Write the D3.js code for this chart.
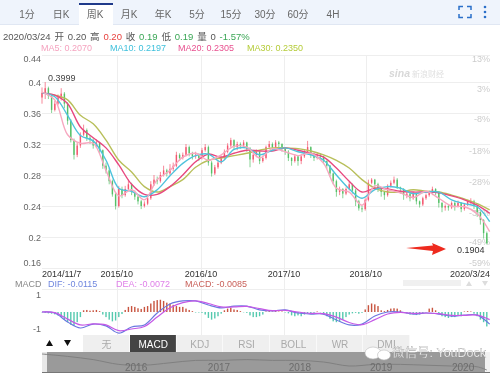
<!DOCTYPE html>
<html>
<head>
<meta charset="utf-8">
<script src="https://cdn.jsdelivr.net/npm/d3@7"></script>
<style>
html, body { margin: 0; padding: 0; background: #fff; }
svg { display: block; filter: blur(0.4px); font-family: "Liberation Sans", "Noto Sans CJK SC", sans-serif; }
</style>
</head>
<body>
<div id="chart"></div>
<script>
const tabs = ["1分", "日K", "周K", "月K", "年K", "5分", "15分", "30分", "60分", "4H"];
const indicatorTabs = ["无", "MACD", "KDJ", "RSI", "BOLL", "WR", "DMI"];

const priceTicks = [0.44, 0.4, 0.36, 0.32, 0.28, 0.24, 0.2, 0.16];
const pctTicks = ["13%", "3%", "-8%", "-18%", "-28%", "-38%", "-49%", "-59%"];
const dateTicks = ["2014/11/7", "2015/10", "2016/10", "2017/10", "2018/10", "2020/3/24"];
const dateTickBars = [0, 23.4, 49.7, 75.6, 101.2, 139.5];
const navYears = ["2016", "2017", "2018", "2019", "2020"];
const navYearBars = [29.4, 55.3, 80.6, 106, 131.6];

const opens = [.380,.386,.392,.382,.364,.372,.380,.385,.372,.350,.325,.306,.318,.332,.338,.328,.325,.318,.322,.312,.292,.286,.272,.255,.240,.262,.254,.262,.268,.258,.252,.246,.240,.243,.250,.268,.274,.272,.280,.286,.282,.288,.292,.306,.302,.306,.316,.308,.304,.306,.302,.312,.316,.296,.282,.290,.296,.302,.310,.318,.325,.316,.320,.318,.322,.314,.300,.306,.310,.298,.302,.316,.320,.316,.322,.320,.314,.310,.302,.298,.304,.298,.304,.310,.316,.306,.302,.306,.304,.298,.292,.282,.272,.258,.262,.256,.262,.268,.260,.246,.237,.236,.248,.270,.274,.268,.262,.258,.254,.266,.270,.274,.264,.262,.254,.256,.250,.256,.246,.242,.250,.254,.258,.262,.258,.244,.238,.240,.238,.244,.240,.244,.236,.242,.246,.246,.240,.232,.222,.205];
const closes = [.386,.392,.382,.364,.372,.380,.385,.372,.350,.325,.306,.318,.332,.338,.328,.325,.318,.322,.312,.292,.286,.272,.255,.240,.262,.254,.262,.268,.258,.252,.246,.240,.243,.250,.268,.274,.272,.280,.286,.282,.288,.292,.306,.302,.306,.316,.308,.304,.306,.302,.312,.316,.296,.282,.290,.296,.302,.310,.318,.325,.316,.320,.318,.322,.314,.300,.306,.310,.298,.302,.316,.320,.316,.322,.320,.314,.310,.302,.298,.304,.298,.304,.310,.316,.306,.302,.306,.304,.298,.292,.282,.272,.258,.262,.256,.262,.268,.260,.246,.237,.236,.248,.270,.274,.268,.262,.258,.254,.266,.270,.274,.264,.262,.254,.256,.250,.256,.246,.242,.250,.254,.258,.262,.258,.244,.238,.240,.238,.244,.240,.244,.236,.242,.246,.246,.240,.232,.222,.205,.192];
const highs = [.393,.3999,.394,.384,.376,.384,.392,.387,.374,.352,.327,.322,.335,.345,.340,.331,.327,.326,.323,.313,.296,.289,.274,.257,.266,.265,.266,.274,.270,.260,.254,.248,.246,.254,.272,.280,.278,.284,.292,.288,.294,.296,.310,.308,.309,.320,.318,.310,.310,.308,.315,.320,.318,.298,.293,.299,.305,.313,.321,.328,.326,.323,.322,.325,.323,.316,.308,.313,.311,.305,.318,.324,.322,.325,.324,.321,.315,.312,.303,.307,.305,.307,.313,.324,.317,.308,.309,.308,.305,.299,.293,.283,.274,.265,.263,.264,.271,.269,.262,.248,.240,.250,.274,.276,.275,.270,.264,.259,.268,.273,.278,.276,.265,.263,.258,.257,.258,.257,.247,.252,.256,.260,.265,.263,.259,.245,.242,.242,.246,.246,.247,.245,.244,.248,.250,.248,.241,.233,.223,.207];
const lows = [.372,.378,.378,.360,.362,.370,.376,.366,.345,.322,.300,.303,.315,.330,.324,.320,.314,.315,.308,.288,.282,.268,.252,.2355,.238,.250,.252,.260,.254,.248,.242,.236,.238,.241,.248,.266,.268,.270,.278,.278,.280,.285,.290,.298,.300,.304,.304,.300,.301,.298,.300,.310,.292,.278,.280,.288,.294,.300,.308,.316,.312,.312,.314,.316,.310,.290,.296,.303,.294,.296,.300,.314,.312,.314,.316,.310,.306,.298,.292,.296,.292,.294,.302,.308,.302,.298,.300,.300,.294,.288,.278,.268,.252,.254,.250,.254,.260,.256,.240,.234,.232,.234,.246,.268,.262,.258,.252,.248,.252,.264,.268,.262,.256,.248,.250,.246,.248,.242,.238,.240,.248,.252,.254,.254,.238,.232,.234,.234,.236,.234,.238,.232,.234,.240,.242,.236,.226,.216,.198,.1904];

const maBars = [0,4,8,12,16,20,24,28,32,36,40,44,48,52,56,60,64,68,72,76,80,84,88,92,96,100,104,108,112,116,120,124,128,132,136,139.9];
const ma5 = [.387,.377,.332,.321,.321,.286,.253,.261,.248,.274,.286,.303,.308,.299,.306,.317,.316,.302,.314,.310,.305,.308,.295,.263,.258,.241,.266,.261,.257,.251,.259,.250,.240,.239,.230,.207];
const ma10 = [.386,.381,.357,.331,.324,.299,.263,.259,.252,.261,.279,.295,.305,.307,.297,.313,.315,.306,.312,.315,.310,.306,.299,.280,.262,.250,.261,.265,.263,.256,.258,.258,.248,.243,.239,.2197];
const ma20 = [.386,.383,.372,.342,.328,.315,.293,.268,.255,.255,.265,.280,.297,.307,.303,.308,.312,.311,.311,.315,.312,.308,.303,.289,.272,.258,.263,.262,.259,.258,.258,.257,.253,.248,.241,.2305];
const ma30 = [.386,.383,.377,.357,.346,.325,.299,.284,.265,.258,.265,.274,.290,.299,.302,.305,.308,.312,.315,.315,.314,.311,.306,.299,.289,.274,.263,.258,.258,.261,.259,.258,.254,.249,.243,.2350];

const dif = [0,-.06,-.59,-.94,-.71,-.82,-1.24,-.88,-.76,-.06,.47,.65,.65,.41,.24,.35,.35,.12,.06,.12,-.06,-.12,-.12,-.47,-.76,-.71,-.24,0,0,-.12,-.06,-.12,-.24,-.18,-.18,-.71];
const dea = [0,-.04,-.42,-.76,-.7,-.76,-1.1,-1,-.85,-.3,.25,.55,.65,.5,.3,.3,.33,.2,.08,.1,0,-.08,-.1,-.3,-.62,-.75,-.45,-.12,-.02,-.08,-.06,-.1,-.2,-.2,-.18,-.45];
const hist = [-.02,-.05,-.08,-.1,-.14,-.2,-.3,-.45,-.6,-.75,-.8,-.6,-.3,.1,.12,.08,.1,.12,.05,-.15,-.3,-.45,-.55,-.5,-.3,-.12,.12,.3,.35,.3,.22,.18,.3,.35,.5,.65,.7,.72,.65,.55,.5,.42,.35,.3,.3,.2,.12,.05,-.03,-.03,-.05,-.15,-.35,-.45,-.38,-.25,-.1,.1,.2,.25,.15,.12,.05,-.02,-.05,-.2,-.3,-.3,-.25,-.15,.03,.05,.03,.05,.03,.03,-.03,-.08,-.2,-.25,-.2,-.25,-.15,-.08,-.08,-.05,.03,-.02,-.15,-.25,-.4,-.55,-.6,-.55,-.45,-.3,-.15,-.08,-.05,-.1,-.05,.15,.4,.5,.45,.35,.1,.05,.12,.2,.22,.2,.1,-.03,-.08,-.15,-.12,-.18,-.15,-.08,-.02,.2,.25,.1,-.1,-.25,-.3,-.35,-.3,-.3,-.2,-.25,.03,.05,.03,-.1,-.25,-.45,-.6,-.85];

const navBars = [0,8,16,24,32,40,48,56,64,72,80,88,96,104,112,120,128,136,139];
const navValues = [.39,.36,.32,.26,.25,.28,.31,.31,.32,.31,.31,.29,.24,.26,.26,.25,.24,.23,.19];

const W = 500, H = 375;
const svg = d3.select("#chart").append("svg").attr("width", W).attr("height", H);

// shared scales, bar number to pixel
const x = d3.scaleLinear().domain([0, 140]).range([42, 490]);
const y = d3.scaleLinear().domain([0.16, 0.2]).range([268, 237]);
const yMacd = d3.scaleLinear().domain([-1, 1]).range([329, 295]);

const upColor = "#f4566f", downColor = "#55c067";

// tab bar
svg.append("rect").attr("width", W).attr("height", 25).attr("fill", "#eff4fc");
svg.append("line").attr("x1", 0).attr("x2", W).attr("y1", 24.5).attr("y2", 24.5).attr("stroke", "#e0e7f3");
svg.append("rect").attr("x", 79).attr("y", 3).attr("width", 34).attr("height", 22).attr("fill", "#fff");
svg.append("rect").attr("x", 79).attr("y", 3).attr("width", 34).attr("height", 2).attr("fill", "#1f3a8a");
const tabX = [27, 61, 95, 129, 163, 197, 231, 265, 298, 333];
svg.selectAll(".tab").data(tabs).join("text")
    .attr("x", (d, i) => tabX[i]).attr("y", 18)
    .attr("text-anchor", "middle").attr("font-size", 10).attr("fill", "#666")
    .text(d => d);

// fullscreen icon and menu dots
svg.append("path")
    .attr("d", "M459 10V6.5H463M467 6.5H471V10M471 14V17.5H467M463 17.5H459V14")
    .attr("fill", "none").attr("stroke", "#2a6fc9").attr("stroke-width", 1.5);
[7, 12, 17].forEach(cy => svg.append("circle").attr("cx", 485).attr("cy", cy).attr("r", 1.3).attr("fill", "#2a6fc9"));

// quote row
const quote = svg.append("text").attr("x", 3).attr("y", 39.5).attr("font-size", 9.5)
    .attr("word-spacing", 1.2).attr("fill", "#555");
[["2020/03/24 开 ", "#555"], ["0.20 ", "#555"], ["高 ", "#555"], ["0.20 ", "#e8413e"], ["收 ", "#555"], ["0.19 ", "#3aa655"],
 ["低 ", "#555"], ["0.19 ", "#3aa655"], ["量 ", "#555"], ["0 ", "#555"], ["-1.57%", "#3aa655"]].forEach(p => {
    quote.append("tspan").attr("fill", p[1]).text(p[0]);
});
const maLabels = ["MA5: 0.2070", "MA10: 0.2197", "MA20: 0.2305", "MA30: 0.2350"];
const maLabelX = [41, 110, 178, 247];
const maColors = ["#f5a3bf", "#3fc0dc", "#e8508f", "#b5cc3a"];
svg.selectAll(".malabel").data(maLabels).join("text")
    .attr("x", (d, i) => maLabelX[i]).attr("y", 50.5).attr("font-size", 9)
    .attr("fill", (d, i) => maColors[i]).text(d => d);

// grid
const gridColor = "#eeeeee";
const gridY = [55, ...priceTicks.slice(1).map(y)];
svg.selectAll(".gy").data(gridY).join("line")
    .attr("x1", 42).attr("x2", 490).attr("y1", d => d + 0.5).attr("y2", d => d + 0.5).attr("stroke", gridColor);
const gridBars = dateTickBars.slice(1, 5);
svg.selectAll(".gx").data(gridBars).join("line")
    .attr("x1", d => Math.round(x(d)) + 0.5).attr("x2", d => Math.round(x(d)) + 0.5)
    .attr("y1", 55).attr("y2", 335).attr("stroke", gridColor);

// sina watermark
svg.append("text").attr("x", 389).attr("y", 77).attr("font-size", 10.5).attr("font-style", "italic")
    .attr("font-weight", "bold").attr("fill", "#d8d8d8").text("sina");
svg.append("text").attr("x", 412).attr("y", 77).attr("font-size", 8).attr("fill", "#e0e0e0").text("新浪财经");

// price labels
const leftLabelY = [59, 83, 114, 145, 176, 207, 238, 263];
svg.selectAll(".pl").data(priceTicks).join("text")
    .attr("x", 41).attr("y", (d, i) => leftLabelY[i] + 3).attr("text-anchor", "end")
    .attr("font-size", 9).attr("fill", "#666").text(d => d);
const rightLabelY = [59, 89, 119, 151, 182, 213, 242, 263];
svg.selectAll(".pr").data(pctTicks).join("text")
    .attr("x", 490).attr("y", (d, i) => rightLabelY[i] + 3).attr("text-anchor", "end")
    .attr("font-size", 9).attr("fill", "#cccccc").text(d => d);

// candles
const candles = d3.range(closes.length);
svg.selectAll(".wick").data(candles).join("line")
    .attr("x1", i => x(i)).attr("x2", i => x(i))
    .attr("y1", i => y(highs[i])).attr("y2", i => y(lows[i]))
    .attr("stroke", i => closes[i] >= opens[i] ? upColor : downColor).attr("stroke-width", 0.7);
svg.selectAll(".body").data(candles).join("rect")
    .attr("x", i => x(i) - 0.7).attr("width", 1.4)
    .attr("y", i => y(Math.max(opens[i], closes[i])))
    .attr("height", i => Math.max(1, Math.abs(y(opens[i]) - y(closes[i]))))
    .attr("fill", i => closes[i] >= opens[i] ? upColor : downColor);

// moving averages
const maLine = d3.line().x((d, i) => x(maBars[i])).y(d => y(d)).curve(d3.curveCatmullRom);
[ma30, ma20, ma10, ma5].forEach((s, k) => {
    svg.append("path").attr("d", maLine(s)).attr("fill", "none")
        .attr("stroke", ["#b8bf5a", "#e8487f", "#4ec3dc", "#f7a8c0"][k]).attr("stroke-width", 1.4);
});

// max/min callouts
svg.append("text").attr("x", 48).attr("y", 81).attr("font-size", 9).attr("fill", "#444").text("0.3999");
svg.append("text").attr("x", 457).attr("y", 253).attr("font-size", 9).attr("fill", "#333").text("0.1904");
svg.append("path").attr("d", "M406 248L433 245.5L432 243L446 249L432 255L433 251Z").attr("fill", "#ee2a1e");

// date labels
const anchors = ["start", "middle", "middle", "middle", "middle", "end"];
svg.selectAll(".dl").data(dateTicks).join("text")
    .attr("x", (d, i) => i === 0 ? 42 : i === 5 ? 490 : x(dateTickBars[i]))
    .attr("y", 277).attr("text-anchor", (d, i) => anchors[i])
    .attr("font-size", 9).attr("fill", "#333").text(d => d);

// macd legend
const macdLabels = ["MACD", "DIF: -0.0115", "DEA: -0.0072", "MACD: -0.0085"];
const macdLabelX = [15, 48, 116, 185];
const macdLabelColor = ["#888", "#6f86de", "#df7fe8", "#c9615a"];
svg.selectAll(".ml").data(macdLabels).join("text")
    .attr("x", (d, i) => macdLabelX[i]).attr("y", 287).attr("font-size", 9)
    .attr("fill", (d, i) => macdLabelColor[i]).text(d => d);

// faint controls right of the macd legend
svg.append("rect").attr("x", 403).attr("y", 280).attr("width", 58).attr("height", 6).attr("fill", "#f0f0f0");
svg.append("path").attr("d", "M466 286L469 281L472 286ZM482 281L488 281L485 286Z").attr("fill", "#dddddd");

// macd panel
svg.append("line").attr("x1", 42).attr("x2", 490).attr("y1", 289.5).attr("y2", 289.5).attr("stroke", gridColor);
svg.selectAll(".mt").data([1, -1]).join("text")
    .attr("x", 41).attr("y", d => yMacd(d) + 3).attr("text-anchor", "end")
    .attr("font-size", 9).attr("fill", "#666").text(d => d);
svg.selectAll(".hist").data(hist).join("rect")
    .attr("x", (d, i) => x(i) - 0.7).attr("width", 1.4)
    .attr("y", d => Math.min(yMacd(d), yMacd(0)))
    .attr("height", d => Math.abs(yMacd(d) - yMacd(0)))
    .attr("fill", d => d >= 0 ? "#c8543f" : "#55c9ae");
const macdLine = d3.line().x((d, i) => x(maBars[i])).y(d => yMacd(d)).curve(d3.curveCatmullRom);
svg.append("path").attr("d", macdLine(dif)).attr("fill", "none").attr("stroke", "#6a78e0").attr("stroke-width", 1.2);
svg.append("path").attr("d", macdLine(dea)).attr("fill", "none").attr("stroke", "#c558e6").attr("stroke-width", 1.2);

// indicator buttons
svg.append("path").attr("d", "M46 346L49.5 340L53 346ZM64 340L71 340L67.5 346Z").attr("fill", "#111");
const tabEdges = [83, 130, 176.5, 223, 270, 317, 363, 410];
svg.selectAll(".ib").data(indicatorTabs).join("rect")
    .attr("x", (d, i) => tabEdges[i]).attr("y", 335)
    .attr("width", (d, i) => tabEdges[i + 1] - tabEdges[i] - 0.6).attr("height", 17)
    .attr("fill", d => d === "MACD" ? "#444" : "#efefef");
svg.selectAll(".it").data(indicatorTabs).join("text")
    .attr("x", (d, i) => (tabEdges[i] + tabEdges[i + 1]) / 2).attr("y", 347.5)
    .attr("text-anchor", "middle").attr("font-size", 10)
    .attr("fill", d => d === "MACD" ? "#fff" : "#aaa").text(d => d);

// navigator
const yNav = d3.scaleLinear().domain([0.19, 0.39]).range([370, 354]);
svg.append("rect").attr("x", 47).attr("y", 352).attr("width", 438).attr("height", 21).attr("fill", "#9a9a9a");
svg.append("rect").attr("x", 42).attr("y", 352).attr("width", 5).attr("height", 21).attr("fill", "#e8e8e8");
svg.append("rect").attr("x", 485).attr("y", 352).attr("width", 5).attr("height", 21).attr("fill", "#f2f2f2");
svg.append("path")
    .attr("d", d3.line().x((d, i) => x(navBars[i])).y(d => yNav(d)).curve(d3.curveCatmullRom)(navValues))
    .attr("fill", "none").attr("stroke", "#808080");
svg.selectAll(".ny").data(navYears).join("text")
    .attr("x", (d, i) => x(navYearBars[i])).attr("y", 371).attr("text-anchor", "middle")
    .attr("font-size", 10).attr("fill", "#6c6c6c").text(d => d);
svg.append("line").attr("x1", 42).attr("x2", 490).attr("y1", 372.5).attr("y2", 372.5).attr("stroke", "#777");

// wechat watermark
const wm = svg.append("g");
[[373, 353, 8, 6], [384, 355, 6.5, 5]].forEach(e => {
    wm.append("ellipse").attr("cx", e[0]).attr("cy", e[1]).attr("rx", e[2]).attr("ry", e[3])
        .attr("fill", "#fff").attr("stroke", "#bbb").attr("stroke-width", 0.6);
});
wm.append("text").attr("x", 392).attr("y", 357).attr("font-size", 12.5).attr("fill", "#fff")
    .attr("stroke", "#888").attr("stroke-width", 0.25).text("微信号: YouDock");
</script>
</body>
</html>
